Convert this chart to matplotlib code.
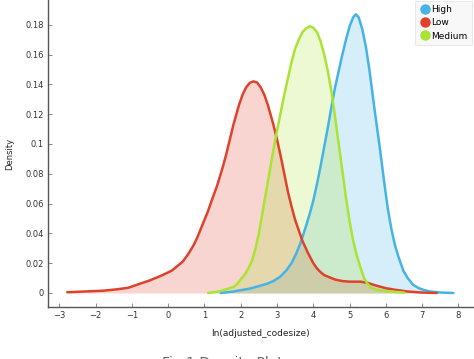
import matplotlib
matplotlib.use("Agg")
import matplotlib.pyplot as plt
from matplotlib.lines import Line2D

# ---- data ----
low_x = [-2.78, -2.3, -1.8, -1.4, -1.1, -0.8, -0.5, -0.2, 0.1, 0.4, 0.55, 0.7, 0.8, 0.9, 1.0,
         1.1, 1.2, 1.35, 1.5, 1.6, 1.7, 1.8, 1.95, 2.05, 2.15, 2.25, 2.35, 2.45, 2.55, 2.65,
         2.75, 2.9, 3.0, 3.1, 3.2, 3.3, 3.4, 3.5, 3.6, 3.7, 3.85, 4.0, 4.1, 4.2, 4.3, 4.45,
         4.6, 4.8, 5.0, 5.3, 5.5, 5.7, 6.0, 6.3, 6.6, 7.0, 7.4]
low_y = [0.0005, 0.001, 0.0015, 0.0025, 0.0035, 0.006, 0.0085, 0.0115, 0.015, 0.021, 0.026,
         0.032, 0.037, 0.043, 0.049, 0.055, 0.062, 0.072, 0.084, 0.093, 0.103, 0.113, 0.126,
         0.133, 0.138, 0.141, 0.142, 0.1412, 0.138, 0.133, 0.126, 0.113, 0.103, 0.092, 0.080,
         0.068, 0.058, 0.049, 0.042, 0.035, 0.027, 0.020, 0.0165, 0.014, 0.012, 0.0105, 0.009,
         0.008, 0.0076, 0.0076, 0.0068, 0.0052, 0.0032, 0.002, 0.001, 0.0003, 0.0]

med_x = [1.1, 1.4, 1.8, 1.9, 2.0, 2.1, 2.2, 2.3, 2.4, 2.5, 2.6, 2.7, 2.8, 2.9, 3.0, 3.1, 3.2,
         3.3, 3.4, 3.5, 3.6, 3.7, 3.8, 3.9, 4.0, 4.1, 4.2, 4.3, 4.4, 4.5, 4.6, 4.7, 4.8, 4.9,
         5.0, 5.1, 5.2, 5.3, 5.4, 5.5, 5.6, 5.75, 6.0, 6.5]
med_y = [0.0, 0.001, 0.004, 0.006, 0.009, 0.012, 0.016, 0.021, 0.029, 0.040, 0.054, 0.068,
         0.082, 0.096, 0.109, 0.121, 0.133, 0.144, 0.155, 0.164, 0.170, 0.175, 0.1775, 0.179,
         0.178, 0.175, 0.169, 0.160, 0.149, 0.135, 0.118, 0.100, 0.082, 0.064, 0.048, 0.035,
         0.025, 0.017, 0.010, 0.006, 0.0035, 0.002, 0.0012, 0.0003]

high_x = [1.45, 1.8, 2.26, 2.7, 2.9, 3.09, 3.25, 3.4, 3.52, 3.64, 3.8, 3.9, 4.0, 4.1, 4.2,
          4.3, 4.4, 4.5, 4.6, 4.7, 4.8, 4.9, 5.0, 5.1, 5.17, 5.25, 5.35, 5.45, 5.55, 5.65,
          5.75, 5.84, 5.95, 6.05, 6.15, 6.25, 6.35, 6.48, 6.6, 6.75, 6.9, 7.05, 7.22, 7.5, 7.86]
high_y = [0.0, 0.001, 0.003, 0.006, 0.008, 0.011, 0.015, 0.020, 0.026, 0.033, 0.045, 0.053,
          0.062, 0.073, 0.085, 0.098, 0.111, 0.125, 0.138, 0.149, 0.160, 0.170, 0.179, 0.185,
          0.187, 0.185, 0.177, 0.165, 0.149, 0.130, 0.112, 0.096, 0.075, 0.057, 0.043, 0.032,
          0.024, 0.015, 0.010, 0.0055, 0.0033, 0.002, 0.001, 0.0003, 0.0]

x_ticks = [-3, -2, -1, 0, 1, 2, 3, 4, 5, 6, 7, 8]
y_ticks = [0, 0.02, 0.04, 0.06, 0.08, 0.1, 0.12, 0.14, 0.16, 0.18]
y_tick_labels = ["0", "0.02", "0.04", "0.06", "0.08", "0.1", "0.12", "0.14", "0.16", "0.18"]

series = [
    ("High", high_x, high_y, "#45b3e6"),
    ("Low", low_x, low_y, "#e0412b"),
    ("Medium", med_x, med_y, "#a9e434"),
]

plt.rcParams['font.family'] = ['DejaVu Sans']

fig = plt.figure(figsize=(4.74, 3.59), dpi=100)
ax = fig.add_axes([48/474, 52/359, 425/474, 307/359])

for name, xs, ys, col in series:
    ax.fill_between(xs, ys, 0, color=col, alpha=0.22, linewidth=0)
for name, xs, ys, col in series:
    ax.plot(xs, ys, color=col, linewidth=1.8, solid_capstyle='round', solid_joinstyle='round')

ax.set_xlim(-3.31, 8.4)
ax.set_ylim(-0.0094, 0.1966)
ax.set_xticks(x_ticks)
ax.set_yticks(y_ticks)
ax.set_yticklabels(y_tick_labels)

for s in ['top', 'right']:
    ax.spines[s].set_visible(False)
for s in ['left', 'bottom']:
    ax.spines[s].set_color('#555555')
    ax.spines[s].set_linewidth(1.0)

ax.tick_params(axis='both', direction='in', length=3, width=0.6, colors='#777777',
               labelsize=6, labelcolor='#333333', pad=3)

ax.set_xlabel("ln(adjusted_codesize)", fontsize=6.5, color='#222222', labelpad=6)
ax.set_ylabel("Density", fontsize=6, color='#222222', labelpad=8)

handles = [Line2D([0], [0], marker='o', linestyle='none', markersize=6.5,
                  markerfacecolor=c, markeredgecolor=c, label=n) for n, _, _, c in series]
leg = ax.legend(handles=handles, loc='upper right', bbox_to_anchor=(1.0, 1.0),
                fontsize=6.5, frameon=True, fancybox=False, handletextpad=0.1,
                borderpad=0.5, labelspacing=0.45, handlelength=1.2, borderaxespad=0.1)
leg.get_frame().set_facecolor('#f7f7f7')
leg.get_frame().set_edgecolor('#e0e0e0')
leg.get_frame().set_linewidth(0.6)

fig.text(0.47, 3/359, "Fig.1 Density Plot", fontsize=10, color='#666666',
         ha='center', va='top')

fig.savefig("out.png", dpi=100)
